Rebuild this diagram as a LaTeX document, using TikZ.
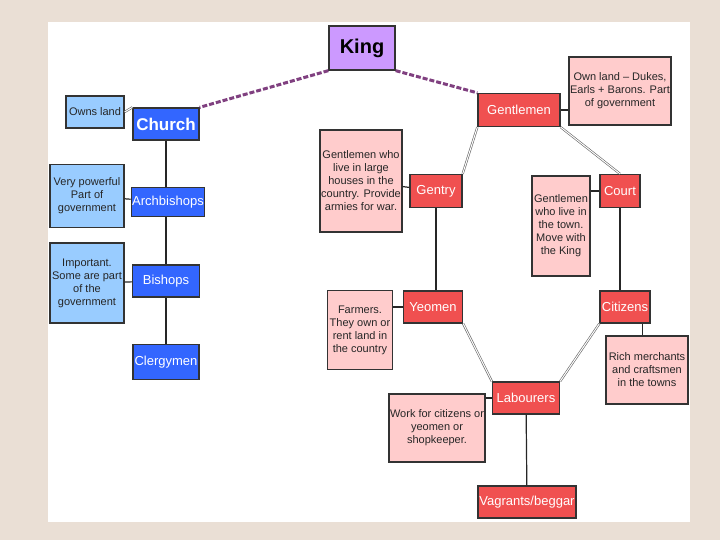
\documentclass[tikz,border=0pt]{standalone}
\usepackage{fontspec}
\setmainfont{Liberation Sans}
\definecolor{mblue}{HTML}{3366FF}
\definecolor{lblue}{HTML}{99CCFF}
\definecolor{mred}{HTML}{F05050}
\definecolor{pink}{HTML}{FFCCCC}
\definecolor{lav}{HTML}{CC99FF}
\begin{document}
\begin{tikzpicture}[x=1pt,y=-1pt,
 bx/.style={draw=black!80,line width=1.3pt,minimum width=#1,inner sep=1pt,align=center,font=\fontsize{11}{13}\selectfont},
 main/.style={bx=#1,fill=mblue,text=white,font=\fontsize{13}{15}\selectfont},
 lb/.style={bx=#1,fill=lblue,text=black!85},
 red/.style={bx=#1,fill=mred,text=white,font=\fontsize{13}{15}\selectfont},
 pk/.style={bx=#1,fill=pink,text=black!85},
 conn/.style={line width=1.2pt,black!85},
 dbl/.style={double=white,double distance=1pt,line width=0.6pt,draw=black!60},
 kl/.style={line width=3pt,draw=violet!50!gray,dash pattern=on 5pt off 2pt}]
\fill[gray!35!brown!25] (0,0) rectangle (720,540);
\fill[white] (48,22) rectangle (690,522);
\useasboundingbox (0,0) rectangle (720,540);
\node[bx=66pt,minimum height=44pt,fill=lav,font=\fontsize{20}{22}\selectfont\bfseries] (king) at (362,48) {King};
\node[main=66pt,minimum height=32pt,font=\fontsize{17}{19}\selectfont\bfseries] (church) at (166,124) {Church};
\node[lb=58pt,minimum height=32pt] (owns) at (95,112) {Owns land};
\node[main=71pt,minimum height=29pt] (arch) at (168,202) {Archbishops};
\node[lb=74pt,minimum height=63pt] (vp) at (87,196) {Very powerful\\Part of\\government};
\node[main=67pt,minimum height=32pt] (bish) at (166,281) {Bishops};
\node[lb=74pt,minimum height=80pt] (imp) at (87,283) {Important.\\Some are part\\of the\\government};
\node[main=66pt,minimum height=35pt] (cler) at (166,362) {Clergymen};
\node[red=82pt,minimum height=33pt] (gent) at (519,110) {Gentlemen};
\node[pk=102pt,minimum height=68pt] (own) at (620,91) {Own land -- Dukes,\\Earls + Barons. Part\\of government};
\node[red=52pt,minimum height=33pt] (gentry) at (436,191) {Gentry};
\node[pk=82pt,minimum height=102pt] (glarge) at (361,181) {Gentlemen who\\live in large\\houses in the\\country. Provide\\armies for war.};
\node[red=40pt,minimum height=33pt] (court) at (620,191) {Court};
\node[pk=58pt,minimum height=100pt] (gtown) at (561,226) {Gentlemen\\who live in\\the town.\\Move with\\the King};
\node[red=59pt,minimum height=32pt] (yeo) at (433,307) {Yeomen};
\node[pk=65pt,minimum height=79pt] (farm) at (360,330) {Farmers.\\They own or\\rent land in\\the country};
\node[red=50pt,minimum height=32pt] (cit) at (625,307) {Citizens};
\node[pk=82pt,minimum height=68pt] (rich) at (647,370) {Rich merchants\\and craftsmen\\in the towns};
\node[red=67pt,minimum height=32pt] (lab) at (526,398) {Labourers};
\node[pk=96pt,minimum height=68pt] (work) at (437,428) {Work for citizens or\\yeomen or\\shopkeeper.};
\node[red=98pt,minimum height=32pt] (vag) at (527,502) {Vagrants/beggar};
\draw[kl] (king.south west) -- (church.north east);
\draw[kl] (king.south east) -- (gent.north west);
\draw[dbl] (owns.east) -- (church.north west);
\draw[conn] (church) -- (church |- arch.north);
\draw[conn] (church |- arch.south) -- (bish);
\draw[conn] (bish) -- (cler);
\draw[conn] (vp) -- (arch);
\draw[conn] (imp) -- (bish);
\draw[dbl] (gent.south west) -- (gentry.north east);
\draw[dbl] (gent.south east) -- (court.north);
\draw[conn] (gent.east) -- (own.west |- gent.east);
\draw[conn] (glarge) -- (gentry);
\draw[conn] (gtown.east |- court) -- (court);
\draw[conn] (gentry) -- (gentry |- yeo.north);
\draw[conn] (court) -- (court |- cit.north);
\draw[conn] (farm.east |- yeo) -- (yeo);
\draw[conn] (cit.south east) ++(-8,0) coordinate (cs) -- (cs |- rich.north);
\draw[dbl] (yeo.south east) -- (lab.north west);
\draw[dbl] (cit.south west) -- (lab.north east);
\draw[conn] (work.east |- lab) -- (lab);
\draw[conn] (lab) -- (vag);
\end{tikzpicture}
\end{document}
